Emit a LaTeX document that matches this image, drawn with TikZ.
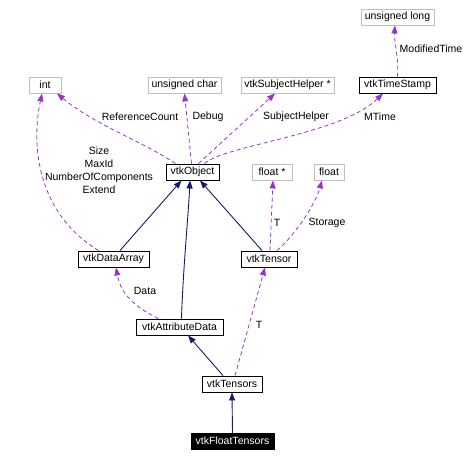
\documentclass[tikz,border=0pt]{standalone}
\usepackage{fontspec}
\setmainfont{Liberation Sans}
\usetikzlibrary{arrows.meta}
\definecolor{usecol}{HTML}{9A32CD}
\definecolor{inhcol}{HTML}{191970}
\definecolor{graybox}{HTML}{BFBFBF}
\begin{document}
\begin{tikzpicture}[x=1pt,y=-1pt,
  font=\fontsize{10.5}{12.5}\selectfont,
  every node/.style={inner sep=0pt},
  cls/.style={draw=black,line width=0.9pt,fill=white,minimum height=16pt},
  ext/.style={draw=graybox,line width=0.9pt,fill=white,minimum height=16pt},
  usage/.style={draw=usecol,line width=0.8pt,dash pattern=on 4pt off 3pt,-{Triangle[length=8pt,width=6pt,fill=usecol]}},
  inherit/.style={draw=inhcol,line width=0.9pt,-{Triangle[length=8pt,width=6pt,fill=inhcol]}},
  lbl/.style={text=black}]
\useasboundingbox (0,0) rectangle (474,459);

% nodes
\node[ext,minimum width=73pt] (ulong) at (397.5,17) {unsigned long};
\node[ext,minimum width=32pt] (int) at (45,85) {int};
\node[ext,minimum width=73pt] (uchar) at (184.5,85) {unsigned char};
\node[ext,minimum width=93pt] (sh) at (287.5,85) {vtkSubjectHelper *};
\node[cls,minimum width=77pt] (tstamp) at (397.5,85) {vtkTimeStamp};
\node[cls,minimum width=53pt] (obj) at (192.5,172) {vtkObject};
\node[ext,minimum width=40pt] (fstar) at (272,172) {float *};
\node[ext,minimum width=30pt] (flt) at (329,172) {float};
\node[cls,minimum width=71pt] (da) at (113.5,259) {vtkDataArray};
\node[cls,minimum width=56pt] (ten) at (269,259) {vtkTensor};
\node[cls,minimum width=87pt] (ad) at (179.5,327) {vtkAttributeData};
\node[cls,minimum width=60pt] (tens) at (232,384) {vtkTensors};
\node[draw=black,fill=black,text=white,minimum height=16pt,minimum width=83pt] (ft) at (232.5,441) {vtkFloatTensors};

% edges
\draw[usage] (tstamp.north) .. controls (399,60) and (394,40) .. ([xshift=-2.5pt]ulong.south);
\node[lbl] (lmod) at (431,49) {ModifiedTime};

\draw[usage] ([xshift=-17pt]obj.north) .. controls (140,140) and (95,125) .. ([xshift=12pt]int.south);
\draw[usage] ([xshift=-1pt]obj.north) -- (uchar.south);
\draw[usage] ([xshift=6pt]obj.north) -- ([xshift=-12.5pt]sh.south);
\draw[usage] ([xshift=12pt]obj.north) .. controls (225,145) and (340,135) .. ([xshift=-14.5pt]tstamp.south);
\node[lbl] (lref) at (140,117) {ReferenceCount};
\node[lbl] (ldbg) at (208,117) {Debug};
\node[lbl] (lsh) at (296,117) {SubjectHelper};
\node[lbl] (lmt) at (380,117) {MTime};

\draw[usage] ([xshift=-15pt]da.north) .. controls (40,215) and (30,150) .. ([xshift=-3pt]int.south);
\node[lbl,align=center] (lsize) at (99,170.5) {Size\\[0.5pt]MaxId\\[0.5pt]NumberOfComponents\\[0.5pt]Extend};
\draw[inherit] ([xshift=6.5pt]da.north) -- ([xshift=-11pt]obj.south);

\draw[inherit] ([xshift=2pt]ad.north) .. controls (183,270) and (188,220) .. ([xshift=-2.5pt]obj.south);
\draw[usage] ([xshift=-21pt]ad.north) .. controls (130,305) and (120,290) .. ([xshift=2.5pt]da.south);
\node[lbl] (ldata) at (145,291) {Data};

\draw[inherit] ([xshift=-7pt]ten.north) -- ([xshift=7.5pt]obj.south);
\draw[usage] ([xshift=1pt]ten.north) -- ([xshift=1pt]fstar.south);
\node[lbl] (lt1) at (277,223) {T};
\draw[usage] ([xshift=8pt]ten.north) .. controls (295,235) and (315,205) .. ([xshift=-7pt]flt.south);
\node[lbl] (lstor) at (327,223) {Storage};

\draw[inherit] ([xshift=-9pt]tens.north) -- ([xshift=8.5pt]ad.south);
\draw[usage] ([xshift=3pt]tens.north) -- ([xshift=-4pt]ten.south);
\node[lbl] (lt2) at (259,325) {T};

\draw[inherit] (ft.north) -- (tens.south);
\end{tikzpicture}
\end{document}
